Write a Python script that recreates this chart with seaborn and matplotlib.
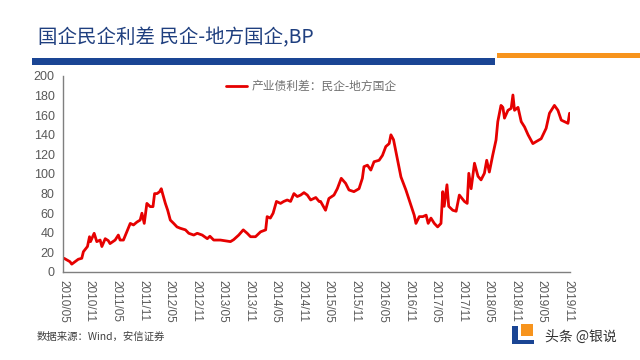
import matplotlib
matplotlib.use("Agg")
import matplotlib.pyplot as plt
import matplotlib.dates as mdates
import matplotlib.patches as mpatches
import pandas as pd
import seaborn as sns

dates = [
    "2010-05-08", "2010-06-18", "2010-06-30", "2010-08-14", "2010-09-07", "2010-09-18",
    "2010-10-16", "2010-10-30", "2010-11-06", "2010-12-01", "2010-12-19", "2011-01-11",
    "2011-01-23", "2011-02-15", "2011-03-08", "2011-03-20", "2011-04-24", "2011-05-16",
    "2011-05-28", "2011-06-20", "2011-07-13", "2011-08-06", "2011-08-28", "2011-09-21",
    "2011-10-13", "2011-10-25", "2011-11-10", "2011-11-28", "2011-12-21", "2012-01-09",
    "2012-01-20", "2012-02-06", "2012-02-24", "2012-03-06", "2012-03-15", "2012-04-03",
    "2012-04-19", "2012-05-07", "2012-05-30", "2012-06-22", "2012-07-15", "2012-08-19",
    "2012-09-11", "2012-10-15", "2012-11-08", "2012-12-12", "2013-01-16", "2013-02-03",
    "2013-03-01", "2013-04-16", "2013-06-24", "2013-07-16", "2013-08-20", "2013-09-20",
    "2013-10-17", "2013-11-09", "2013-12-13", "2014-01-17", "2014-02-21", "2014-03-03",
    "2014-03-25", "2014-04-13", "2014-05-06", "2014-06-03", "2014-06-25", "2014-07-19",
    "2014-08-11", "2014-09-03", "2014-09-26", "2014-10-19", "2014-11-11", "2014-12-04",
    "2014-12-27", "2015-01-31", "2015-02-23", "2015-03-05", "2015-04-08", "2015-05-01",
    "2015-06-05", "2015-06-28", "2015-07-25", "2015-08-24", "2015-09-16", "2015-10-20",
    "2015-11-24", "2015-12-17", "2015-12-28", "2016-01-21", "2016-02-13", "2016-03-06",
    "2016-04-10", "2016-05-03", "2016-05-26", "2016-06-18", "2016-06-30", "2016-07-18",
    "2016-08-10", "2016-09-07", "2016-10-11", "2016-11-10", "2016-12-07", "2016-12-19",
    "2017-01-11", "2017-02-04", "2017-02-27", "2017-03-13", "2017-04-01", "2017-04-24",
    "2017-05-17", "2017-06-09", "2017-06-21", "2017-07-01", "2017-07-20", "2017-08-01",
    "2017-08-29", "2017-09-21", "2017-10-13", "2017-11-17", "2017-12-06", "2017-12-17",
    "2018-01-02", "2018-01-25", "2018-02-18", "2018-03-11", "2018-04-03", "2018-04-19",
    "2018-05-07", "2018-05-30", "2018-06-22", "2018-07-04", "2018-07-26", "2018-08-08",
    "2018-08-19", "2018-09-12", "2018-10-04", "2018-10-16", "2018-10-27", "2018-11-20",
    "2018-12-12", "2019-01-04", "2019-01-28", "2019-03-02", "2019-03-24", "2019-04-28",
    "2019-06-01", "2019-06-24", "2019-07-28", "2019-08-21", "2019-09-13", "2019-10-06",
    "2019-10-29", "2019-11-09",
]
spread = [
    14, 10.5, 8, 13, 14, 20.7,
    26, 36, 31, 39.5, 31, 32.6,
    26, 34, 32, 29, 32.6, 37.7,
    32.6, 32.6, 41, 49.6, 48, 51,
    53, 60, 49.6, 70, 66.7, 66.7,
    80, 80, 82, 85, 80, 70,
    63, 53, 49.6, 46, 44.6, 43,
    39.5, 37.7, 39.5, 37.7, 34, 36.5,
    32.6, 32.6, 31, 33, 37.7, 43,
    39.5, 36, 36, 41, 43, 56.5,
    55, 60, 72, 70, 72, 73.5,
    72, 80, 77, 78.5, 81, 78.5,
    73.5, 76, 72, 72, 63, 75,
    78.5, 85, 95.6, 90.5, 83.7, 82,
    85, 95.6, 107.5, 109, 104, 112.5,
    114, 119, 128, 131, 140, 135,
    117.7, 97, 83.7, 70, 58, 49.6,
    56.5, 56.5, 58, 49.6, 55, 49.6,
    46, 49.6, 82, 67, 89, 67,
    63, 62, 78.5, 72, 70, 100.7,
    85, 111, 97.7, 94, 100.7, 114,
    102, 119, 134.7, 153.4, 170, 168,
    157, 165, 167, 180.6, 165, 168,
    153.4, 148, 140, 131, 133, 136,
    146.6, 162, 170, 165, 155, 153.4,
    151.7, 162,
]
series_name = "产业债利差：民企-地方国企"
title = "国企民企利差 民企-地方国企,BP"
source = "数据来源：Wind，安信证券"
y_ticks = [0, 20, 40, 60, 80, 100, 120, 140, 160, 180, 200]

df = pd.DataFrame({"date": pd.to_datetime(dates), "value": spread})

sns.set_style("white")
plt.rcParams["font.family"] = ["Noto Sans CJK SC", "DejaVu Sans"]

fig = plt.figure(figsize=(6.4, 3.6), dpi=100)
ax = fig.add_axes([63 / 640, 1 - 272 / 360, 507 / 640, 196 / 360])

sns.lineplot(data=df, x="date", y="value", ax=ax, color="#e60000", linewidth=2.0,
             label=series_name)

ax.set_ylim(0, 200)
ax.set_yticks(y_ticks)
ax.set_xlim(pd.Timestamp("2010-05-01"), pd.Timestamp("2019-11-12"))
ax.xaxis.set_major_locator(mdates.MonthLocator(bymonth=[5, 11]))
ax.xaxis.set_major_formatter(mdates.DateFormatter("%Y/%m"))
ax.set_xlabel("")
ax.set_ylabel("")

gray = "#595959"
for lab in ax.get_xticklabels():
    lab.set_rotation(270)
    lab.set_fontfamily(["Liberation Sans", "DejaVu Sans"])
for lab in ax.get_yticklabels():
    lab.set_fontfamily(["Liberation Sans", "DejaVu Sans"])
ax.tick_params(axis="x", colors=gray, labelsize=8.5, length=4, width=1, direction="out", pad=2)
ax.tick_params(axis="y", colors=gray, labelsize=9, length=4, width=1, direction="out", pad=2)
for s in ["top", "right"]:
    ax.spines[s].set_visible(False)
for s in ["left", "bottom"]:
    ax.spines[s].set_color("#7f7f7f")
    ax.spines[s].set_linewidth(1)

leg = ax.legend(loc="upper center", bbox_to_anchor=(0.49, 1.035), frameon=False,
                fontsize=8.5, handlelength=1.8, handletextpad=0.4)
for t in leg.get_texts():
    t.set_color("#707070")

# header
fig.text(38 / 640, 1 - 38 / 360, title, fontsize=14, color="#1f3f7f", va="center", ha="left")
fig.patches.append(mpatches.Rectangle((32 / 640, 1 - 65 / 360), 463 / 640, 7 / 360,
                                      transform=fig.transFigure, color="#1a4594", lw=0))
fig.patches.append(mpatches.Rectangle((497 / 640, 1 - 58 / 360), 143 / 640, 5 / 360,
                                      transform=fig.transFigure, color="#f7941d", lw=0))

# footer
fig.text(37 / 640, 1 - 337 / 360, source, fontsize=7.5, color="#404040", va="center", ha="left")
fig.patches.append(mpatches.Rectangle((512 / 640, 1 - 344 / 360), 22 / 640, 18 / 360,
                                      transform=fig.transFigure, color="#1a4594", lw=0))
fig.patches.append(mpatches.Rectangle((518 / 640, 1 - 340 / 360), 16 / 640, 14 / 360,
                                      transform=fig.transFigure, color="white", lw=0))
fig.patches.append(mpatches.Rectangle((521 / 640, 1 - 336 / 360), 12 / 640, 12 / 360,
                                      transform=fig.transFigure, color="#f7941d", lw=0))
fig.text(545 / 640, 1 - 337 / 360, "头条 @银说", fontsize=10, color="#333333", va="center", ha="left")

fig.savefig("out.png", dpi=100)
